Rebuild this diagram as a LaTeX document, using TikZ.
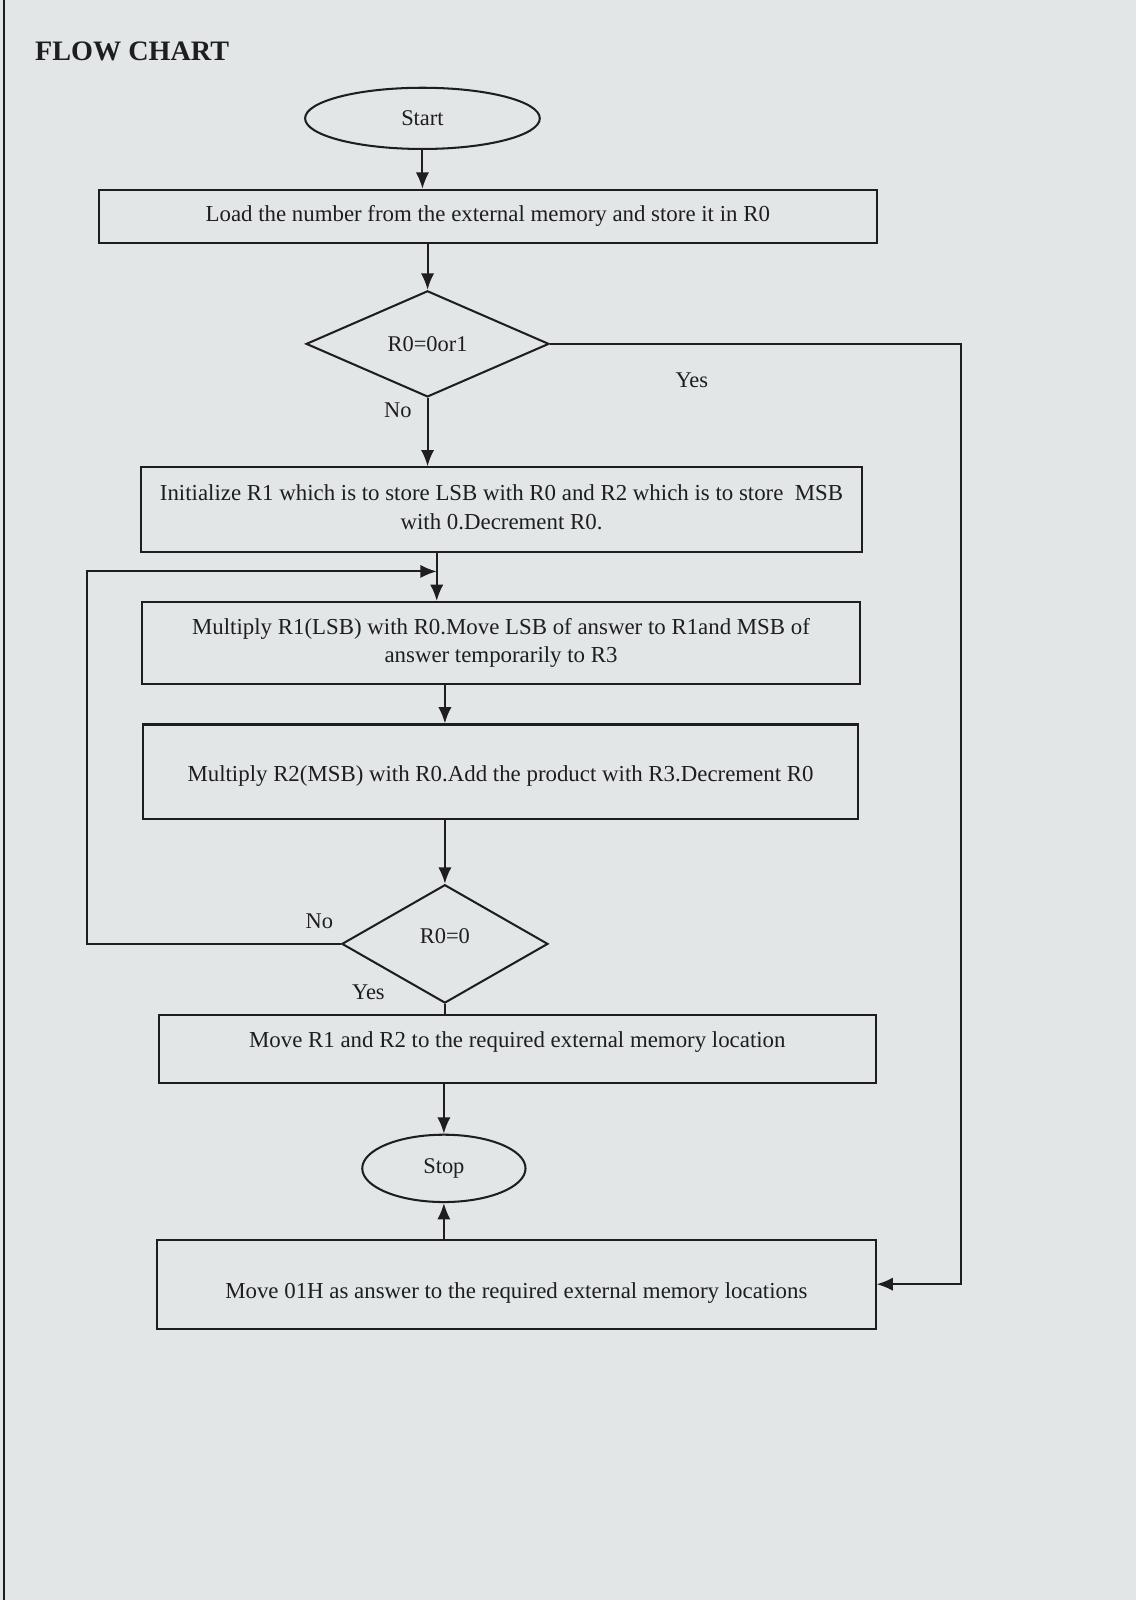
\documentclass[tikz,border=0pt]{standalone}
\usepackage{fontspec}
\setmainfont{Liberation Serif}
\usetikzlibrary{shapes.geometric,arrows.meta}
\definecolor{paper}{HTML}{E2E6E6}
\definecolor{ink}{HTML}{1E1E1E}
\begin{document}
\begin{tikzpicture}[x=1pt,y=-1pt,
  every node/.style={text=ink},
  box/.style={draw=ink,line width=2pt,rectangle,inner sep=0pt,align=center,font=\fontsize{22.4}{27.5}\selectfont},
  term/.style={draw=ink,line width=2pt,ellipse,inner sep=0pt,font=\fontsize{22}{26}\selectfont},
  dec/.style={draw=ink,line width=2pt,diamond,inner sep=0pt,font=\fontsize{22}{26}\selectfont},
  lbl/.style={font=\fontsize{22}{26}\selectfont},
  conn/.style={draw=ink,line width=2pt},
  arr/.style={conn,-{Latex[length=16pt,width=13pt]}}]
\useasboundingbox (0,0) rectangle (1113,1568);
\fill[paper] (0,0) rectangle (1113,1568);
\draw[ink,line width=2.5pt] (4,0) -- (4,1568);
\node[anchor=west,font=\fontsize{27.6}{32}\selectfont\bfseries] (title) at (31,50) {FLOW CHART};

\node[term,minimum width=230pt,minimum height=60pt] (start) at (414,116) {Start};
\node[box,minimum width=762pt,minimum height=52pt] (box1) at (478,212) {Load the number from the external memory and store it in R0};
\node[dec,minimum width=238pt,minimum height=104pt] (d1) at (419,337) {R0=0or1};
\node[box,minimum width=707pt,minimum height=83pt] (box2) at (491.5,499.5) {\raisebox{13pt}{\begin{tabular}{@{}c@{}}Initialize R1 which is to store LSB with R0 and R2 which is to store\ \ MSB\\[1pt] with 0.Decrement R0.\end{tabular}}};
\node[box,minimum width=704pt,minimum height=80pt] (box3) at (491,630) {Multiply R1(LSB) with R0.Move LSB of answer to R1and MSB of\\ answer temporarily to R3};
\node[box,minimum width=701pt,minimum height=93pt] (box4) at (490.5,756.5) {\raisebox{-8.9pt}[0pt][0pt]{Multiply R2(MSB) with R0.Add the product with R3.Decrement R0}};
\node[dec,minimum width=202pt,minimum height=116pt] (d2) at (436,925) {\raisebox{0pt}[0pt][0pt]{R0=0}};
\node[box,minimum width=702pt,minimum height=66pt] (box5) at (507,1028) {\raisebox{1.6pt}[0pt][0pt]{Move R1 and R2 to the required external memory location}};
\node[term,minimum width=160pt,minimum height=66pt] (stop) at (435,1145) {Stop};
\node[box,minimum width=704pt,minimum height=87pt] (box6) at (506,1258.5) {\raisebox{-13.9pt}[0pt][0pt]{Move 01H as answer to the required external memory locations}};

\node[lbl] (yes1) at (678,373) {Yes};
\node[lbl] (no1) at (390,402) {No};
\node[lbl] (no2) at (313,903) {No};
\node[lbl] (yes2) at (361,972) {Yes};

\coordinate (j) at (428,560);
\coordinate (loopc) at (85,560);
\coordinate (yc) at (942,335);

\draw[arr] (start.south) -- (start.south |- box1.north);
\draw[arr] (box1.south -| d1.north) -- (d1.north);
\draw[arr] (d1.south) -- (d1.south |- box2.north);
\draw[conn] (j |- box2.south) -- (j);
\draw[arr] (j) -- (j |- box3.north);
\draw[arr] (d2.west) -- (d2.west -| loopc) -- (loopc) -- (j);
\draw[arr] (box3.south -| d2.north) -- (box4.north -| d2.north);
\draw[arr] (box4.south -| d2.north) -- (d2.north);
\draw[conn] (d2.south) -- (d2.south |- box5.north);
\draw[arr] (box5.south -| stop.north) -- (stop.north);
\draw[arr] (box6.north -| stop.south) -- (stop.south);
\draw[arr] (d1.east) -- (d1.east -| yc) -- (yc |- box6.east) -- (box6.east);
\end{tikzpicture}
\end{document}
